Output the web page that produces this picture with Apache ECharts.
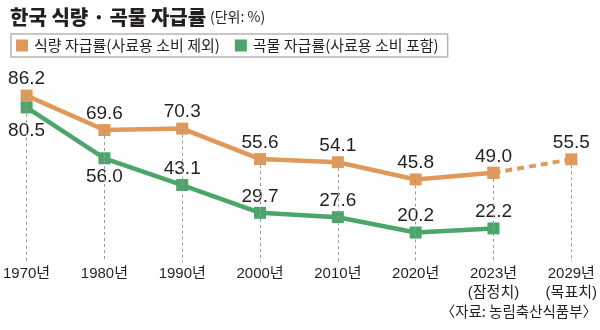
<!DOCTYPE html>
<html>
<head>
<meta charset="utf-8">
<script src="https://cdn.jsdelivr.net/npm/echarts@6/dist/echarts.min.js"></script>
<style>
  html, body { margin: 0; padding: 0; background: #fff; }
  #chart { width: 600px; height: 330px; }
</style>
</head>
<body>
<div id="chart"></div>
<script>
// Categories (years) and self-sufficiency rates, %
const years = ['1970년', '1980년', '1990년', '2000년', '2010년', '2020년', '2023년\n(잠정치)', '2029년\n(목표치)'];
const foodRate = [86.2, 69.6, 70.3, 55.6, 54.1, 45.8, 49.0, 55.5];   // 사료용 소비 제외
const grainRate = [80.5, 56.0, 43.1, 29.7, 27.6, 20.2, 22.2, null];  // 사료용 소비 포함
const foodName = '식량 자급률(사료용 소비 제외)';
const grainName = '곡물 자급률(사료용 소비 포함)';

const ORANGE = '#E1995B';
const GREEN = '#4CA56B';
const NUM_FONT = "'Liberation Sans', 'Noto Sans CJK KR', sans-serif";
const KR_FONT = "'Noto Sans CJK KR', sans-serif";

const lastActual = 6;  // index of the 2023 provisional value; 2029 is a target
const Y_MIN = 6;

// solid line up to 2023, dashed from 2023 to the 2029 target
const foodSolid = foodRate.map((v, i) => (i <= lastActual ? v : null));
const foodDashed = foodRate.map((v, i) => (i >= lastActual ? v : null));

// vertical dashed guides from the upper mark down to the axis
const guides = foodRate.map((v, i) => [
  { coord: [i, v] },
  { coord: [i, Y_MIN] }
]);

// green labels sit below the marker for the first two years
const grainData = grainRate.map((v, i) => ({
  value: v,
  label: i < 2 ? { position: 'bottom', distance: i === 0 ? 8 : 3 } : { position: 'top', distance: 1 }
}));

const labelBase = {
  show: true,
  fontFamily: NUM_FONT,
  fontSize: 19,
  color: '#231f20',
  formatter: p => (p.value == null ? '' : Number(Array.isArray(p.value) ? p.value[1] : p.value).toFixed(1))
};

const chart = echarts.init(document.getElementById('chart'), null, { renderer: 'canvas' });
chart.setOption({
  animation: false,
  backgroundColor: '#fff',
  title: {
    text: '한국 식량 · 곡물 자급률',
    left: 5,
    top: 2,
    textStyle: { fontFamily: KR_FONT, fontSize: 20, fontWeight: 900, color: '#231f20' }
  },
  graphic: [
    {
      type: 'text',
      left: 210,
      top: 10,
      style: { text: '(단위: %)', font: "14px 'Noto Sans CJK KR', sans-serif", fill: '#231f20' }
    },
    {
      type: 'text',
      right: 3,
      top: 304,
      style: { text: '〈자료: 농림축산식품부〉', font: "14.5px 'Noto Sans CJK KR', sans-serif", fill: '#231f20' }
    }
  ],
  legend: {
    data: [
      { name: foodName, icon: 'rect' },
      { name: grainName, icon: 'rect' }
    ],
    left: 11,
    top: 34,
    itemWidth: 12,
    itemHeight: 12,
    itemGap: 15,
    padding: [4, 9, 4, 5],
    borderColor: '#b5b5b5',
    borderWidth: 1.5,
    textStyle: { fontFamily: KR_FONT, fontSize: 15, color: '#231f20', padding: [0, 0, 0, 1] }
  },
  grid: { left: 22, right: 27, top: 67, bottom: 68, containLabel: false },
  xAxis: {
    type: 'category',
    data: years,
    boundaryGap: false,
    axisLine: { show: false },
    axisTick: { show: false },
    splitLine: { show: false },
    axisLabel: {
      margin: 2,
      fontFamily: NUM_FONT,
      fontSize: 15,
      lineHeight: 19,
      color: '#231f20',
      interval: 0
    }
  },
  yAxis: {
    type: 'value',
    min: Y_MIN,
    max: 100,
    show: false,
    splitLine: { show: false }
  },
  series: [
    {
      name: 'guide',
      type: 'line',
      data: [],
      z: 1,
      silent: true,
      markLine: {
        silent: true,
        symbol: 'none',
        label: { show: false },
        lineStyle: { type: [3, 3], color: '#9a9a9a', width: 1 },
        data: guides
      }
    },
    {
      name: foodName,
      type: 'line',
      data: foodSolid,
      z: 3,
      color: ORANGE,
      symbol: 'rect',
      symbolSize: 12,
      lineStyle: { width: 4.5, color: ORANGE },
      itemStyle: { color: ORANGE },
      label: Object.assign({}, labelBase, { position: 'top', distance: 1 })
    },
    {
      name: foodName,
      type: 'line',
      data: foodDashed,
      z: 3,
      color: ORANGE,
      symbol: 'rect',
      symbolSize: 12,
      lineStyle: { width: 4, color: ORANGE, type: [7, 5] },
      itemStyle: { color: ORANGE },
      label: Object.assign({}, labelBase, {
        position: 'top',
        distance: 1,
        formatter: p => (p.dataIndex === lastActual ? '' : Number(p.value).toFixed(1))
      })
    },
    {
      name: grainName,
      type: 'line',
      data: grainData,
      z: 4,
      color: GREEN,
      symbol: 'rect',
      symbolSize: 12,
      lineStyle: { width: 4.5, color: GREEN },
      itemStyle: { color: GREEN },
      label: labelBase
    }
  ]
});
</script>
</body>
</html>
